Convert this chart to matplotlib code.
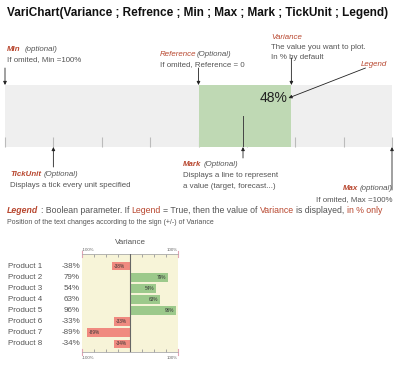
import numpy as np
import matplotlib.pyplot as plt

plt.rcParams['font.family'] = ['Liberation Sans', 'DejaVu Sans']

W, H = 400, 369

# exemple du haut
variance = 48
reference = 0
v_min, v_max = -100, 100
mark = 23
tick_unit = 25

# tableau du bas
products = ['Product 1', 'Product 2', 'Product 3', 'Product 4',
            'Product 5', 'Product 6', 'Product 7', 'Product 8']
values = [-38, 79, 54, 63, 96, -33, -89, -34]
axis_labels = ['-100%', '100%']

RED = '#b8472f'
GREY = '#555555'
DARK = '#222222'

fig = plt.figure(figsize=(W / 100, H / 100), dpi=100)
fig.patch.set_facecolor('white')

# calque en pixels pour les textes
ax_bg = fig.add_axes([0, 0, 1, 1])
ax_bg.set_xlim(0, W)
ax_bg.set_ylim(H, 0)
ax_bg.axis('off')

renderer = fig.canvas.get_renderer()


def px_axes(x0, y0, x1, y1):
    return fig.add_axes([x0 / W, 1 - y1 / H, (x1 - x0) / W, (y1 - y0) / H])


def text_width(s, **kw):
    t = ax_bg.text(0, 0, '|' + s + '|', **kw)
    w1 = t.get_window_extent(renderer).width
    t.remove()
    t = ax_bg.text(0, 0, '||', **kw)
    w2 = t.get_window_extent(renderer).width
    t.remove()
    return w1 - w2


def rich(x, y, parts, ha='left'):
    widths = [text_width(s, **kw) for s, kw in parts]
    if ha == 'right':
        x -= sum(widths)
    for (s, kw), w in zip(parts, widths):
        lead = s[:len(s) - len(s.lstrip())]
        dx = text_width(lead, **kw) if lead else 0
        ax_bg.text(x + dx, y, s.strip(), va='baseline', ha='left', **kw)
        x += w


fs = 5.7
red_bi = dict(color=RED, fontsize=fs, style='italic', weight='bold')
red_i = dict(color=RED, fontsize=fs, style='italic')
grey_i = dict(color=GREY, fontsize=fs, style='italic')
grey = dict(color=GREY, fontsize=fs)

# titre
ax_bg.text(7, 16, 'VariChart(Variance ; Refrence ; Min ; Max ; Mark ; TickUnit ; Legend)',
           fontsize=8.5, weight='bold', color='#111111', va='baseline')

# bande principale
ax_top = px_axes(5, 85, 392, 147)
ax_top.set_facecolor('#efefef')
ax_top.barh(0, variance - reference, left=reference, height=1,
            color='#bfd9b4', zorder=3)
ax_top.axvline(mark, ymin=0, ymax=0.5, color='#444444', lw=0.7, zorder=4)
ax_top.set_xlim(v_min, v_max)
ax_top.set_ylim(-0.5, 0.5)
ax_top.set_xticks(np.arange(v_min, v_max + 1, tick_unit))
ax_top.set_yticks([])
ax_top.tick_params(axis='x', direction='in', length=7, color='#bbbbbb',
                   width=0.8, labelbottom=False)
for sp in ax_top.spines.values():
    sp.set_visible(False)
ax_top.annotate(f'{variance}%', (variance, 0.79), xycoords=('data', 'axes fraction'),
                xytext=(-4, 0), textcoords='offset pixels', ha='right', va='center',
                fontsize=10, color='#222222', zorder=5)

arrow = dict(arrowstyle='-|>', color=DARK, lw=0.6, mutation_scale=5,
             shrinkA=0, shrinkB=0)
xy_mix = ('data', 'axes fraction')
ax_top.annotate('', (v_min, 1), xycoords=xy_mix, xytext=(0, 17),
                textcoords='offset pixels', arrowprops=arrow)
ax_top.annotate('', (reference, 1), xycoords=xy_mix, xytext=(0, 17),
                textcoords='offset pixels', arrowprops=arrow)
ax_top.annotate('', (variance, 1), xycoords=xy_mix, xytext=(0, 27),
                textcoords='offset pixels', arrowprops=arrow)
ax_top.annotate('', (variance - 1.5, 0.79), xycoords=xy_mix, xytext=(77, 30),
                textcoords='offset pixels', arrowprops=arrow)
ax_top.annotate('', (v_min + tick_unit, 0), xycoords=xy_mix, xytext=(0, -20),
                textcoords='offset pixels', arrowprops=arrow)
ax_top.annotate('', (mark, 0), xycoords=xy_mix, xytext=(0, -11),
                textcoords='offset pixels', arrowprops=arrow)
ax_top.annotate('', (v_max, 0), xycoords=xy_mix, xytext=(0, -43),
                textcoords='offset pixels', arrowprops=arrow)

# légendes autour de la bande
rich(7, 51, [('Min', red_bi), ('  (optional)', grey_i)])
ax_bg.text(7, 61, 'If omited, Min =100%', va='baseline', **grey)
rich(160, 56, [('Reference', red_i), ('(Optional)', grey_i)])
ax_bg.text(160, 66, 'If omited, Reference = 0', va='baseline', **grey)
ax_bg.text(271, 39, 'Variance', va='baseline', **red_i)
ax_bg.text(271, 49, 'The value you want to plot.', va='baseline', **grey)
ax_bg.text(271, 59, 'In % by default', va='baseline', **grey)
ax_bg.text(387, 66, 'Legend', va='baseline', ha='right', **red_i)

rich(10, 176, [('TickUnit', red_bi), (' (Optional)', grey_i)])
ax_bg.text(10, 187, 'Displays a tick every unit specified', va='baseline', **grey)
rich(183, 166, [('Mark', red_bi), (' (Optional)', grey_i)])
ax_bg.text(183, 177, 'Displays a line to represent', va='baseline', **grey)
ax_bg.text(183, 188, 'a value (target, forecast...)', va='baseline', **grey)
rich(393, 190, [('Max', red_bi), (' (optional)', grey_i)], ha='right')
ax_bg.text(393, 201, 'If omited, Max =100%', va='baseline', ha='right', **grey)

fs2 = 6.3
rich(7, 213, [('Legend', dict(red_bi, fontsize=fs2)),
              (' : Boolean parameter. If ', dict(grey, fontsize=fs2)),
              ('Legend', dict(color=RED, fontsize=fs2)),
              (' = True, then the value of ', dict(grey, fontsize=fs2)),
              ('Variance', dict(color=RED, fontsize=fs2)),
              (' is displayed, ', dict(grey, fontsize=fs2)),
              ('in % only', dict(color=RED, fontsize=fs2))])
ax_bg.text(7, 224, 'Position of the text changes according to the sign (+/-) of Variance',
           va='baseline', color=GREY, fontsize=5)

# tableau d'exemple
rows = np.arange(len(products))
ax_b = px_axes(82, 254, 178, 352)
ax_b.set_facecolor('#f7f4d8')
colors = ['#9cc98b' if v > 0 else '#f08a80' for v in values]
ax_b.barh(rows, values, height=0.8, color=colors, zorder=2)
ax_b.axvline(0, color='#666666', lw=0.8, zorder=3)
ax_b.set_xlim(-100, 100)
ax_b.set_ylim(len(products) - 1 + 0.72, -1.08)
ax_b.set_xticks(np.arange(-100, 101, 25))
ax_b.set_yticks([])
ax_b.tick_params(axis='x', direction='in', length=2.5, color='#999999', width=0.6,
                 top=True, bottom=True, labelbottom=False)
for side in ['left', 'right']:
    ax_b.spines[side].set_visible(False)
for side in ['top', 'bottom']:
    ax_b.spines[side].set_color('#aaaaaa')
    ax_b.spines[side].set_linewidth(0.6)
for xv in (-100, 100):
    ax_b.axvline(xv, ymin=0.97, ymax=1.03, color='#e2a3b3', lw=0.8, clip_on=False)
    ax_b.axvline(xv, ymin=-0.03, ymax=0.03, color='#e2a3b3', lw=0.8, clip_on=False)

xt = ax_b.get_xaxis_transform()
ax_b.text(0, 1.122, 'Variance', transform=xt, ha='center', va='center',
          fontsize=5.8, color=GREY)
for yfrac in (1.04, -0.06):
    ax_b.text(-100, yfrac, axis_labels[0], transform=xt, ha='left', va='center',
              fontsize=3.2, color='#666666')
    ax_b.text(100, yfrac, axis_labels[1], transform=xt, ha='right', va='center',
              fontsize=3.2, color='#666666')

yt = ax_b.get_yaxis_transform()
for i, (name, v) in enumerate(zip(products, values)):
    ax_b.text(-0.771, i, name, transform=yt, ha='left', va='center',
              fontsize=5.8, color=GREY)
    ax_b.text(-0.021, i, f'{v}%', transform=yt, ha='right', va='center',
              fontsize=5.8, color=GREY)
    off = -2 if v > 0 else 2
    ax_b.annotate(f'{v}%', (v, i), xytext=(off, 0), textcoords='offset pixels',
                  ha='right' if v > 0 else 'left', va='center',
                  fontsize=3.4, color='#333333', zorder=4)

fig.savefig('out.png', dpi=100)
